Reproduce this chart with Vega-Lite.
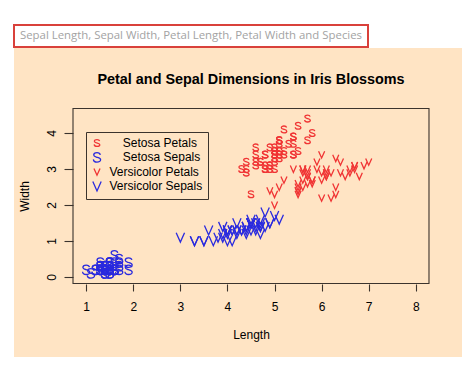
{
  "$schema": "https://vega.github.io/schema/vega-lite/v6.json",
  "background": "white",
  "padding": {"left": 13, "top": 24, "right": 0, "bottom": 0},
  "spacing": 0,
  "config": {
    "font": "Liberation Sans",
    "view": {"stroke": null}
  },
  "datasets": {
    "iris": [
      {"group":"Setosa Sepal","pch":"s","length":5.1,"width":3.5},{"group":"Setosa Sepal","pch":"s","length":4.9,"width":3.0},{"group":"Setosa Sepal","pch":"s","length":4.7,"width":3.2},{"group":"Setosa Sepal","pch":"s","length":4.6,"width":3.1},{"group":"Setosa Sepal","pch":"s","length":5.0,"width":3.6},
      {"group":"Setosa Sepal","pch":"s","length":5.4,"width":3.9},{"group":"Setosa Sepal","pch":"s","length":4.6,"width":3.4},{"group":"Setosa Sepal","pch":"s","length":5.0,"width":3.4},{"group":"Setosa Sepal","pch":"s","length":4.4,"width":2.9},{"group":"Setosa Sepal","pch":"s","length":4.9,"width":3.1},
      {"group":"Setosa Sepal","pch":"s","length":5.4,"width":3.7},{"group":"Setosa Sepal","pch":"s","length":4.8,"width":3.4},{"group":"Setosa Sepal","pch":"s","length":4.8,"width":3.0},{"group":"Setosa Sepal","pch":"s","length":4.3,"width":3.0},{"group":"Setosa Sepal","pch":"s","length":5.8,"width":4.0},
      {"group":"Setosa Sepal","pch":"s","length":5.7,"width":4.4},{"group":"Setosa Sepal","pch":"s","length":5.4,"width":3.9},{"group":"Setosa Sepal","pch":"s","length":5.1,"width":3.5},{"group":"Setosa Sepal","pch":"s","length":5.7,"width":3.8},{"group":"Setosa Sepal","pch":"s","length":5.1,"width":3.8},
      {"group":"Setosa Sepal","pch":"s","length":5.4,"width":3.4},{"group":"Setosa Sepal","pch":"s","length":5.1,"width":3.7},{"group":"Setosa Sepal","pch":"s","length":4.6,"width":3.6},{"group":"Setosa Sepal","pch":"s","length":5.1,"width":3.3},{"group":"Setosa Sepal","pch":"s","length":4.8,"width":3.4},
      {"group":"Setosa Sepal","pch":"s","length":5.0,"width":3.0},{"group":"Setosa Sepal","pch":"s","length":5.0,"width":3.4},{"group":"Setosa Sepal","pch":"s","length":5.2,"width":3.5},{"group":"Setosa Sepal","pch":"s","length":5.2,"width":3.4},{"group":"Setosa Sepal","pch":"s","length":4.7,"width":3.2},
      {"group":"Setosa Sepal","pch":"s","length":4.8,"width":3.1},{"group":"Setosa Sepal","pch":"s","length":5.4,"width":3.4},{"group":"Setosa Sepal","pch":"s","length":5.2,"width":4.1},{"group":"Setosa Sepal","pch":"s","length":5.5,"width":4.2},{"group":"Setosa Sepal","pch":"s","length":4.9,"width":3.1},
      {"group":"Setosa Sepal","pch":"s","length":5.0,"width":3.2},{"group":"Setosa Sepal","pch":"s","length":5.5,"width":3.5},{"group":"Setosa Sepal","pch":"s","length":4.9,"width":3.6},{"group":"Setosa Sepal","pch":"s","length":4.4,"width":3.0},{"group":"Setosa Sepal","pch":"s","length":5.1,"width":3.4},
      {"group":"Setosa Sepal","pch":"s","length":5.0,"width":3.5},{"group":"Setosa Sepal","pch":"s","length":4.5,"width":2.3},{"group":"Setosa Sepal","pch":"s","length":4.4,"width":3.2},{"group":"Setosa Sepal","pch":"s","length":5.0,"width":3.5},{"group":"Setosa Sepal","pch":"s","length":5.1,"width":3.8},
      {"group":"Setosa Sepal","pch":"s","length":4.8,"width":3.0},{"group":"Setosa Sepal","pch":"s","length":5.1,"width":3.8},{"group":"Setosa Sepal","pch":"s","length":4.6,"width":3.2},{"group":"Setosa Sepal","pch":"s","length":5.3,"width":3.7},{"group":"Setosa Sepal","pch":"s","length":5.0,"width":3.3},

      {"group":"Setosa Petal","pch":"S","length":1.4,"width":0.2},{"group":"Setosa Petal","pch":"S","length":1.4,"width":0.2},{"group":"Setosa Petal","pch":"S","length":1.3,"width":0.2},{"group":"Setosa Petal","pch":"S","length":1.5,"width":0.2},{"group":"Setosa Petal","pch":"S","length":1.4,"width":0.2},
      {"group":"Setosa Petal","pch":"S","length":1.7,"width":0.4},{"group":"Setosa Petal","pch":"S","length":1.4,"width":0.3},{"group":"Setosa Petal","pch":"S","length":1.5,"width":0.2},{"group":"Setosa Petal","pch":"S","length":1.4,"width":0.2},{"group":"Setosa Petal","pch":"S","length":1.5,"width":0.1},
      {"group":"Setosa Petal","pch":"S","length":1.5,"width":0.2},{"group":"Setosa Petal","pch":"S","length":1.6,"width":0.2},{"group":"Setosa Petal","pch":"S","length":1.4,"width":0.1},{"group":"Setosa Petal","pch":"S","length":1.1,"width":0.1},{"group":"Setosa Petal","pch":"S","length":1.2,"width":0.2},
      {"group":"Setosa Petal","pch":"S","length":1.5,"width":0.4},{"group":"Setosa Petal","pch":"S","length":1.3,"width":0.4},{"group":"Setosa Petal","pch":"S","length":1.4,"width":0.3},{"group":"Setosa Petal","pch":"S","length":1.7,"width":0.3},{"group":"Setosa Petal","pch":"S","length":1.5,"width":0.3},
      {"group":"Setosa Petal","pch":"S","length":1.7,"width":0.2},{"group":"Setosa Petal","pch":"S","length":1.5,"width":0.4},{"group":"Setosa Petal","pch":"S","length":1.0,"width":0.2},{"group":"Setosa Petal","pch":"S","length":1.7,"width":0.5},{"group":"Setosa Petal","pch":"S","length":1.9,"width":0.2},
      {"group":"Setosa Petal","pch":"S","length":1.6,"width":0.2},{"group":"Setosa Petal","pch":"S","length":1.6,"width":0.4},{"group":"Setosa Petal","pch":"S","length":1.5,"width":0.2},{"group":"Setosa Petal","pch":"S","length":1.4,"width":0.2},{"group":"Setosa Petal","pch":"S","length":1.6,"width":0.2},
      {"group":"Setosa Petal","pch":"S","length":1.6,"width":0.2},{"group":"Setosa Petal","pch":"S","length":1.5,"width":0.4},{"group":"Setosa Petal","pch":"S","length":1.5,"width":0.1},{"group":"Setosa Petal","pch":"S","length":1.4,"width":0.2},{"group":"Setosa Petal","pch":"S","length":1.5,"width":0.2},
      {"group":"Setosa Petal","pch":"S","length":1.2,"width":0.2},{"group":"Setosa Petal","pch":"S","length":1.3,"width":0.2},{"group":"Setosa Petal","pch":"S","length":1.4,"width":0.1},{"group":"Setosa Petal","pch":"S","length":1.3,"width":0.2},{"group":"Setosa Petal","pch":"S","length":1.5,"width":0.2},
      {"group":"Setosa Petal","pch":"S","length":1.3,"width":0.3},{"group":"Setosa Petal","pch":"S","length":1.3,"width":0.3},{"group":"Setosa Petal","pch":"S","length":1.3,"width":0.2},{"group":"Setosa Petal","pch":"S","length":1.6,"width":0.6},{"group":"Setosa Petal","pch":"S","length":1.9,"width":0.4},
      {"group":"Setosa Petal","pch":"S","length":1.4,"width":0.3},{"group":"Setosa Petal","pch":"S","length":1.6,"width":0.2},{"group":"Setosa Petal","pch":"S","length":1.4,"width":0.2},{"group":"Setosa Petal","pch":"S","length":1.5,"width":0.2},{"group":"Setosa Petal","pch":"S","length":1.4,"width":0.2},

      {"group":"Versicolor Sepal","pch":"v","length":7.0,"width":3.2},{"group":"Versicolor Sepal","pch":"v","length":6.4,"width":3.2},{"group":"Versicolor Sepal","pch":"v","length":6.9,"width":3.1},{"group":"Versicolor Sepal","pch":"v","length":5.5,"width":2.3},{"group":"Versicolor Sepal","pch":"v","length":6.5,"width":2.8},
      {"group":"Versicolor Sepal","pch":"v","length":5.7,"width":2.8},{"group":"Versicolor Sepal","pch":"v","length":6.3,"width":3.3},{"group":"Versicolor Sepal","pch":"v","length":4.9,"width":2.4},{"group":"Versicolor Sepal","pch":"v","length":6.6,"width":2.9},{"group":"Versicolor Sepal","pch":"v","length":5.2,"width":2.7},
      {"group":"Versicolor Sepal","pch":"v","length":5.0,"width":2.0},{"group":"Versicolor Sepal","pch":"v","length":5.9,"width":3.0},{"group":"Versicolor Sepal","pch":"v","length":6.0,"width":2.2},{"group":"Versicolor Sepal","pch":"v","length":6.1,"width":2.9},{"group":"Versicolor Sepal","pch":"v","length":5.6,"width":2.9},
      {"group":"Versicolor Sepal","pch":"v","length":6.7,"width":3.1},{"group":"Versicolor Sepal","pch":"v","length":5.6,"width":3.0},{"group":"Versicolor Sepal","pch":"v","length":5.8,"width":2.7},{"group":"Versicolor Sepal","pch":"v","length":6.2,"width":2.2},{"group":"Versicolor Sepal","pch":"v","length":5.6,"width":2.5},
      {"group":"Versicolor Sepal","pch":"v","length":5.9,"width":3.2},{"group":"Versicolor Sepal","pch":"v","length":6.1,"width":2.8},{"group":"Versicolor Sepal","pch":"v","length":6.3,"width":2.5},{"group":"Versicolor Sepal","pch":"v","length":6.1,"width":2.8},{"group":"Versicolor Sepal","pch":"v","length":6.4,"width":2.9},
      {"group":"Versicolor Sepal","pch":"v","length":6.6,"width":3.0},{"group":"Versicolor Sepal","pch":"v","length":6.8,"width":2.8},{"group":"Versicolor Sepal","pch":"v","length":6.7,"width":3.0},{"group":"Versicolor Sepal","pch":"v","length":6.0,"width":2.9},{"group":"Versicolor Sepal","pch":"v","length":5.7,"width":2.6},
      {"group":"Versicolor Sepal","pch":"v","length":5.5,"width":2.4},{"group":"Versicolor Sepal","pch":"v","length":5.5,"width":2.4},{"group":"Versicolor Sepal","pch":"v","length":5.8,"width":2.7},{"group":"Versicolor Sepal","pch":"v","length":6.0,"width":2.7},{"group":"Versicolor Sepal","pch":"v","length":5.4,"width":3.0},
      {"group":"Versicolor Sepal","pch":"v","length":6.0,"width":3.4},{"group":"Versicolor Sepal","pch":"v","length":6.7,"width":3.1},{"group":"Versicolor Sepal","pch":"v","length":6.3,"width":2.3},{"group":"Versicolor Sepal","pch":"v","length":5.6,"width":3.0},{"group":"Versicolor Sepal","pch":"v","length":5.5,"width":2.5},
      {"group":"Versicolor Sepal","pch":"v","length":5.5,"width":2.6},{"group":"Versicolor Sepal","pch":"v","length":6.1,"width":3.0},{"group":"Versicolor Sepal","pch":"v","length":5.8,"width":2.6},{"group":"Versicolor Sepal","pch":"v","length":5.0,"width":2.3},{"group":"Versicolor Sepal","pch":"v","length":5.6,"width":2.7},
      {"group":"Versicolor Sepal","pch":"v","length":5.7,"width":3.0},{"group":"Versicolor Sepal","pch":"v","length":5.7,"width":2.9},{"group":"Versicolor Sepal","pch":"v","length":6.2,"width":2.9},{"group":"Versicolor Sepal","pch":"v","length":5.1,"width":2.5},{"group":"Versicolor Sepal","pch":"v","length":5.7,"width":2.8},

      {"group":"Versicolor Petal","pch":"V","length":4.7,"width":1.4},{"group":"Versicolor Petal","pch":"V","length":4.5,"width":1.5},{"group":"Versicolor Petal","pch":"V","length":4.9,"width":1.5},{"group":"Versicolor Petal","pch":"V","length":4.0,"width":1.3},{"group":"Versicolor Petal","pch":"V","length":4.6,"width":1.5},
      {"group":"Versicolor Petal","pch":"V","length":4.5,"width":1.3},{"group":"Versicolor Petal","pch":"V","length":4.7,"width":1.6},{"group":"Versicolor Petal","pch":"V","length":3.3,"width":1.0},{"group":"Versicolor Petal","pch":"V","length":4.6,"width":1.3},{"group":"Versicolor Petal","pch":"V","length":3.9,"width":1.4},
      {"group":"Versicolor Petal","pch":"V","length":3.5,"width":1.0},{"group":"Versicolor Petal","pch":"V","length":4.2,"width":1.5},{"group":"Versicolor Petal","pch":"V","length":4.0,"width":1.0},{"group":"Versicolor Petal","pch":"V","length":4.7,"width":1.4},{"group":"Versicolor Petal","pch":"V","length":3.6,"width":1.3},
      {"group":"Versicolor Petal","pch":"V","length":4.4,"width":1.4},{"group":"Versicolor Petal","pch":"V","length":4.5,"width":1.5},{"group":"Versicolor Petal","pch":"V","length":4.1,"width":1.0},{"group":"Versicolor Petal","pch":"V","length":4.5,"width":1.5},{"group":"Versicolor Petal","pch":"V","length":3.9,"width":1.1},
      {"group":"Versicolor Petal","pch":"V","length":4.8,"width":1.8},{"group":"Versicolor Petal","pch":"V","length":4.0,"width":1.3},{"group":"Versicolor Petal","pch":"V","length":4.9,"width":1.5},{"group":"Versicolor Petal","pch":"V","length":4.7,"width":1.2},{"group":"Versicolor Petal","pch":"V","length":4.3,"width":1.3},
      {"group":"Versicolor Petal","pch":"V","length":4.4,"width":1.4},{"group":"Versicolor Petal","pch":"V","length":4.8,"width":1.4},{"group":"Versicolor Petal","pch":"V","length":5.0,"width":1.7},{"group":"Versicolor Petal","pch":"V","length":4.5,"width":1.5},{"group":"Versicolor Petal","pch":"V","length":3.5,"width":1.0},
      {"group":"Versicolor Petal","pch":"V","length":3.8,"width":1.1},{"group":"Versicolor Petal","pch":"V","length":3.7,"width":1.0},{"group":"Versicolor Petal","pch":"V","length":3.9,"width":1.2},{"group":"Versicolor Petal","pch":"V","length":5.1,"width":1.6},{"group":"Versicolor Petal","pch":"V","length":4.5,"width":1.5},
      {"group":"Versicolor Petal","pch":"V","length":4.5,"width":1.6},{"group":"Versicolor Petal","pch":"V","length":4.7,"width":1.5},{"group":"Versicolor Petal","pch":"V","length":4.4,"width":1.3},{"group":"Versicolor Petal","pch":"V","length":4.1,"width":1.3},{"group":"Versicolor Petal","pch":"V","length":4.0,"width":1.3},
      {"group":"Versicolor Petal","pch":"V","length":4.4,"width":1.2},{"group":"Versicolor Petal","pch":"V","length":4.6,"width":1.4},{"group":"Versicolor Petal","pch":"V","length":4.0,"width":1.2},{"group":"Versicolor Petal","pch":"V","length":3.3,"width":1.0},{"group":"Versicolor Petal","pch":"V","length":4.2,"width":1.3},
      {"group":"Versicolor Petal","pch":"V","length":4.2,"width":1.2},{"group":"Versicolor Petal","pch":"V","length":4.2,"width":1.3},{"group":"Versicolor Petal","pch":"V","length":4.3,"width":1.3},{"group":"Versicolor Petal","pch":"V","length":3.0,"width":1.1},{"group":"Versicolor Petal","pch":"V","length":4.1,"width":1.3}
    ]
  },
  "vconcat": [
    {
      "width": 354,
      "height": 22,
      "view": {"fill": "white", "stroke": "#d9413b", "strokeWidth": 2},
      "data": {"values": [{"caption": "Sepal Length, Sepal Width, Petal Length, Petal Width and Species"}]},
      "mark": {"type": "text", "font": "Open Sans", "fontSize": 11.4, "color": "#a3a3a3", "align": "center", "baseline": "middle"},
      "encoding": {"text": {"field": "caption"}}
    },
    {
      "width": 448,
      "height": 309,
      "view": {"fill": "#FFE4C4", "stroke": null},
      "title": {
        "text": "Petal and Sepal Dimensions in Iris Blossoms",
        "font": "Liberation Sans",
        "fontSize": 14.4,
        "fontWeight": "bold",
        "color": "black",
        "anchor": "middle",
        "dx": 13,
        "offset": -50,
        "baseline": "alphabetic"
      },
      "layer": [
        {
          "data": {"values": [{"frame": "plot region"}]},
          "mark": {"type": "rect", "fill": null, "stroke": "#3b332d", "strokeWidth": 1.1},
          "encoding": {
            "x": {"datum": 0.72, "type": "quantitative"},
            "x2": {"datum": 8.28},
            "y": {"datum": -0.18, "type": "quantitative"},
            "y2": {"datum": 4.68}
          }
        },
        {
          "data": {"name": "iris"},
          "mark": {"type": "point", "filled": false, "size": 110, "strokeWidth": 1.3, "opacity": 1},
          "encoding": {
            "x": {
              "field": "length", "type": "quantitative",
              "scale": {"domain": [-0.533, 8.981], "nice": false, "zero": false},
              "axis": {
                "orient": "bottom", "offset": -73, "values": [1,2,3,4,5,6,7,8], "format": "d",
                "domain": false, "grid": false, "tickSize": 7, "tickColor": "#3b332d", "tickWidth": 1.1,
                "labelFontSize": 12, "labelColor": "black", "labelPadding": 10, "labelOverlap": false, "labelFlush": false,
                "title": "Length", "titleFontSize": 12, "titleFontWeight": "normal", "titleColor": "black",
                "titlePadding": 17, "titleX": 237
              }
            },
            "y": {
              "field": "width", "type": "quantitative",
              "scale": {"domain": [-2.222, 6.361], "nice": false, "zero": false},
              "axis": {
                "orient": "left", "offset": -59, "values": [0,1,2,3,4], "format": "d",
                "domain": false, "grid": false, "tickSize": 9, "tickColor": "#3b332d", "tickWidth": 1.1,
                "labelAngle": -90, "labelAlign": "center", "labelBaseline": "bottom",
                "labelFontSize": 12, "labelColor": "black", "labelPadding": 6, "labelOverlap": false, "labelFlush": false,
                "title": "Width", "titleFontSize": 12, "titleFontWeight": "normal", "titleColor": "black",
                "titlePadding": 14, "titleY": 148
              }
            },
            "color": {
              "field": "pch", "type": "nominal",
              "scale": {"domain": ["s","S","v","V"], "range": ["#f03434","#2a2ade","#f03434","#2a2ade"]},
              "legend": {
                "orient": "none", "legendX": 72, "legendY": 107, "title": null,
                "labelExpr": "{'s':'\u200b\u00a0\u00a0\u00a0\u00a0Setosa Petals','S':'\u200b\u00a0\u00a0\u00a0\u00a0Setosa Sepals','v':'Versicolor Petals','V':'Versicolor Sepals'}[datum.value]",
                "padding": 5, "rowPadding": -0.6, "strokeColor": "#3b332d",
                "symbolSize": 110, "symbolStrokeWidth": 1.3, "symbolFillColor": "transparent",
                "labelFont": "Liberation Sans", "labelFontSize": 12, "labelColor": "black", "labelOffset": 6.5, "labelLimit": 200
              }
            },
            "shape": {
              "field": "pch", "type": "nominal",
              "scale": {
                "domain": ["s","S","v","V"],
                "range": [
                  "M0.5,-0.36C0.45,-0.58 0.27,-0.65 0,-0.65C-0.3,-0.65 -0.5,-0.53 -0.5,-0.33C-0.5,-0.1 -0.23,-0.08 0,-0.01C0.27,0.06 0.54,0.11 0.54,0.33C0.54,0.55 0.3,0.65 0,0.65C-0.33,0.65 -0.52,0.5 -0.54,0.27",
                  "M0.63,-0.5C0.57,-0.8 0.34,-0.9 0,-0.9C-0.38,-0.9 -0.63,-0.73 -0.63,-0.46C-0.63,-0.15 -0.29,-0.11 0,-0.02C0.34,0.08 0.69,0.15 0.69,0.46C0.69,0.76 0.38,0.9 0,0.9C-0.42,0.9 -0.67,0.69 -0.69,0.38",
                  "M-0.58,-0.65L0,0.65L0.58,-0.65",
                  "M-0.8,-0.9L0,0.9L0.8,-0.9"
                ]
              },
              "legend": {
                "orient": "none", "legendX": 72, "legendY": 107, "title": null,
                "labelExpr": "{'s':'\u200b\u00a0\u00a0\u00a0\u00a0Setosa Petals','S':'\u200b\u00a0\u00a0\u00a0\u00a0Setosa Sepals','v':'Versicolor Petals','V':'Versicolor Sepals'}[datum.value]",
                "padding": 5, "rowPadding": -0.6, "strokeColor": "#3b332d",
                "symbolSize": 110, "symbolStrokeWidth": 1.3, "symbolFillColor": "transparent",
                "labelFont": "Liberation Sans", "labelFontSize": 12, "labelColor": "black", "labelOffset": 6.5, "labelLimit": 200
              }
            }
          }
        }
      ]
    }
  ]
}
